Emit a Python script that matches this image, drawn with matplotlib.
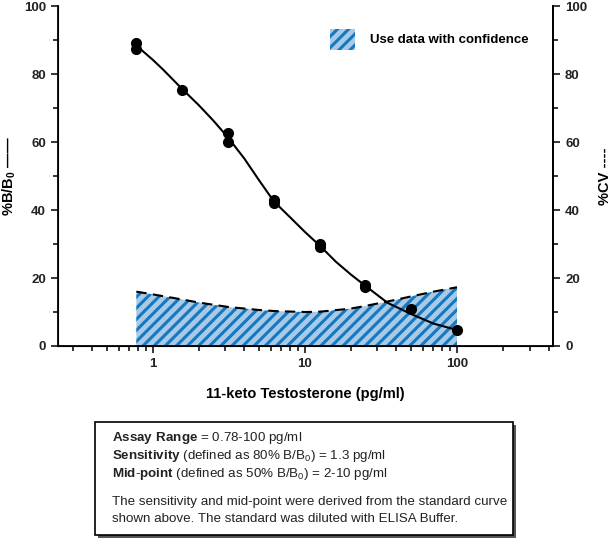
import numpy as np
import matplotlib
matplotlib.use('Agg')
import matplotlib.pyplot as plt
from matplotlib.patches import Rectangle, Patch
from matplotlib.ticker import FixedLocator, NullFormatter

plt.rcParams['font.family'] = ['Liberation Sans', 'DejaVu Sans']
plt.rcParams['mathtext.fontset'] = 'custom'
plt.rcParams['mathtext.rm'] = 'Liberation Sans'
plt.rcParams['mathtext.bf'] = 'Liberation Sans:bold'
plt.rcParams['hatch.linewidth'] = 2.2
plt.rcParams['hatch.color'] = '#1479bf'

# standard points (pg/ml, %B/B0)
std_conc = [0.78, 0.78, 1.56, 3.125, 3.125, 6.25, 6.25, 12.5, 12.5, 25, 25, 50, 100]
std_bb0 = [89.2, 87.6, 75.5, 62.6, 60.0, 43.0, 42.2, 30.0, 29.1, 17.9, 17.4, 11.0, 4.8]

# fitted curve
fit_conc = [0.78, 1.0, 1.17, 1.56, 2.0, 2.5, 3.125, 4.0, 5.0, 6.25, 8.0, 10, 12.5,
            16, 20, 25, 35, 50, 70, 100]
fit_bb0 = [88.5, 84.3, 81.4, 75.7, 71.0, 66.4, 61.4, 55.2, 48.8, 42.6, 37.9, 33.6, 29.6,
           24.8, 21.1, 17.7, 12.7, 9.4, 6.6, 4.7]

# %CV curve
cv_conc = [0.78, 1.0, 1.56, 2.0, 3.125, 5.0, 6.25, 10, 12.5, 20, 25, 35, 50, 70, 100]
cv_val = [16.0, 15.2, 13.7, 12.8, 11.5, 10.6, 10.3, 10.0, 10.1, 11.0, 11.8, 13.1, 14.6, 16.0, 17.3]

light_blue = '#a9c9e8'
dark_blue = '#1479bf'

fig = plt.figure(figsize=(6.11, 5.40), dpi=100)
ax = fig.add_axes([0.0957, 0.3593, 0.8087, 0.6287])

ax.fill_between(cv_conc, 0, cv_val, facecolor=light_blue, edgecolor=dark_blue,
                hatch='///', linewidth=0, zorder=1)
ax.plot(cv_conc, cv_val, color='black', lw=1.5, ls=(0, (5, 3)), zorder=2)
ax.plot(fit_conc, fit_bb0, color='black', lw=1.5, zorder=3)
ax.plot(std_conc, std_bb0, 'o', color='black', ms=7, zorder=4)

ax.set_xscale('log')
ax.set_xlim(0.24, 425)
ax.set_ylim(0, 100)
ax.xaxis.set_major_locator(FixedLocator([1, 10, 100]))
ax.set_xticklabels(['1', '10', '100'])
ax.xaxis.set_minor_locator(FixedLocator([0.3, 0.4, 0.5, 0.6, 0.7, 0.8, 0.9,
                                         2, 3, 4, 5, 6, 7, 8, 9,
                                         20, 30, 40, 50, 60, 70, 80, 90,
                                         200, 300, 400]))
ax.xaxis.set_minor_formatter(NullFormatter())
ax.set_yticks([0, 20, 40, 60, 80, 100])
ax.set_yticks(range(10, 100, 20), minor=True)

ax.spines['top'].set_visible(False)
for s in ['left', 'right', 'bottom']:
    ax.spines[s].set_linewidth(1.3)

ax.tick_params(which='both', direction='out', width=1.1, labelsize=9.5)
ax.tick_params(which='major', length=5, pad=4)
ax.tick_params(which='minor', length=3.5)
for lab in ax.get_xticklabels() + ax.get_yticklabels():
    lab.set_fontweight('bold')
    lab.set_color('#222222')

ax2 = ax.twinx()
ax2.set_ylim(0, 100)
ax2.set_yticks([0, 20, 40, 60, 80, 100])
ax2.set_yticks(range(10, 100, 20), minor=True)
ax2.spines['top'].set_visible(False)
ax2.spines['right'].set_linewidth(1.3)
ax2.tick_params(which='both', direction='out', width=1.1, labelsize=9.5)
ax2.tick_params(which='major', length=5, pad=4)
ax2.tick_params(which='minor', length=3.5)
for lab in ax2.get_yticklabels():
    lab.set_fontweight('bold')
    lab.set_color('#222222')

ax.set_xlabel('11-keto Testosterone (pg/ml)', fontsize=10.5, fontweight='bold', labelpad=12)
ax.set_ylabel(r'%B/B$_\mathbf{0}$ ——', fontsize=10.5, fontweight='bold')
ax2.set_ylabel('%CV ----', fontsize=10.5, fontweight='bold')
ax.yaxis.set_label_coords(-0.082, 0.5)
ax2.yaxis.set_label_coords(1.092, 0.5)

handle = Patch(facecolor=light_blue, edgecolor=dark_blue, hatch='///', linewidth=0)
leg = ax.legend([handle], ['Use data with confidence'], loc='upper right',
                bbox_to_anchor=(0.975, 0.97), frameon=False, handlelength=1.9,
                handleheight=2.1, handletextpad=1.1, prop={'weight': 'bold', 'size': 9.5})

# info box with drop shadow
bx, by, bw, bh = 95 / 611, 1 - 535 / 540, (513 - 95) / 611, (535 - 422) / 540
fig.patches.append(Rectangle((bx + 3 / 611, by - 3 / 540), bw, bh, transform=fig.transFigure,
                             facecolor='#555555', edgecolor='none', zorder=1))
fig.patches.append(Rectangle((bx, by), bw, bh, transform=fig.transFigure,
                             facecolor='white', edgecolor='black', lw=1.2, zorder=2))

lines = [
    r'$\bf{Assay\ Range}$ = 0.78-100 pg/ml',
    r'$\bf{Sensitivity}$ (defined as 80% B/B$_0$) = 1.3 pg/ml',
    r'$\bf{Mid}$-$\bf{point}$ (defined as 50% B/B$_0$) = 2-10 pg/ml',
    'The sensitivity and mid-point were derived from the standard curve',
    'shown above. The standard was diluted with ELISA Buffer.',
]
line_y = [438, 456, 474, 502, 519]
for t, yy in zip(lines, line_y):
    fig.text(112 / 611, 1 - yy / 540, t, fontsize=9.6, va='center', ha='left',
             color='#222222', zorder=3)

fig.savefig('out.png', dpi=100)
